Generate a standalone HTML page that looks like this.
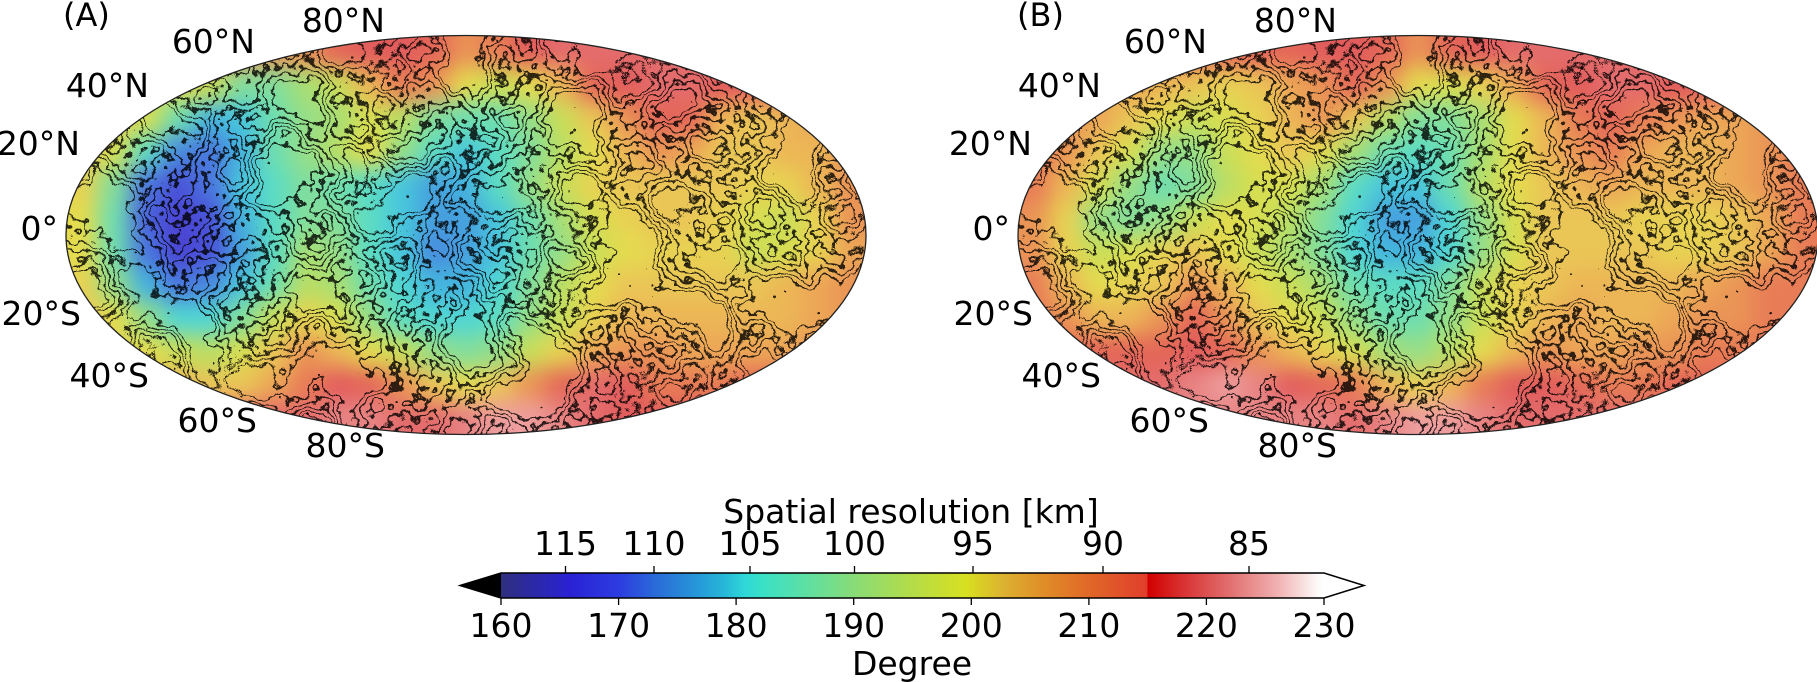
<!DOCTYPE html>
<html><head><meta charset="utf-8">
<style>
html,body{margin:0;padding:0;background:#fff;}
svg{display:block}
text{font-family:"DejaVu Sans","Liberation Sans",sans-serif;font-size:33px;fill:#000}
.c166{fill:#4a44d4}.c168{fill:#4a52d8}.c170{fill:#4a62dc}.c172{fill:#4a76de}.c174{fill:#488ade}
.c176{fill:#46a0de}.c178{fill:#44b4de}.c180{fill:#48c6dc}.c182{fill:#50d6d4}.c184{fill:#5cdcc4}
.c186{fill:#6edeb0}.c188{fill:#82de9c}.c190{fill:#96de88}.c192{fill:#a8de74}.c194{fill:#bade64}
.c196{fill:#cade58}.c198{fill:#d8de50}.c200{fill:#e4dc4e}.c202{fill:#e8d252}.c204{fill:#eac656}
.c206{fill:#ecb656}.c208{fill:#eca656}.c210{fill:#ea9456}.c212{fill:#e87c56}.c214{fill:#e46658}
.c216{fill:#e25c5c}.c218{fill:#e46c6c}.c220{fill:#e88484}.c222{fill:#ee9e9e}
</style></head><body>
<svg width="1817" height="682" viewBox="0 0 1817 682">
<defs>
<clipPath id="ell"><ellipse cx="466" cy="235" rx="400" ry="199.5"/></clipPath>
<filter id="bl" filterUnits="userSpaceOnUse" x="0" y="-20" width="940" height="510" color-interpolation-filters="sRGB"><feGaussianBlur stdDeviation="11"/></filter>
<filter id="ct" filterUnits="userSpaceOnUse" x="60" y="30" width="812" height="412" color-interpolation-filters="sRGB">
<feTurbulence type="fractalNoise" baseFrequency="0.012" numOctaves="5" seed="7" result="n"/>
<feColorMatrix in="n" type="matrix" values="0 0 0 0 0  0 0 0 0 0  0 0 0 0 0  1 0 0 0 0" result="na"/>
<feComponentTransfer in="na" result="lines"><feFuncA type="discrete" tableValues="0 0 0 0 0 0 0 0 0 0 0 0 0 0 0 0 0 0 0 0 0 0 0 0 .8 0 0 0 .8 0 0 0 .8 0 0 0 .8 0 0 0 .8 0 0 0 0 0 0 0 0 0 0 0 0 0 0 0 0 0 0 0 0 0 0 0"/></feComponentTransfer>
<feTurbulence type="fractalNoise" baseFrequency="0.18" numOctaves="1" seed="11" result="n2"/>
<feColorMatrix in="n2" type="matrix" values="0 0 0 0 0  0 0 0 0 0  0 0 0 0 0  1 0 0 0 0" result="n2a"/>
<feComponentTransfer in="n2a" result="dots"><feFuncA type="discrete" tableValues="0 0 0 0 0 0 0 .8 .8"/></feComponentTransfer>
<feMerge><feMergeNode in="lines"/><feMergeNode in="dots"/></feMerge>
</filter>
<linearGradient id="cb" x1="0" x2="1" y1="0" y2="0">
<stop offset="0" stop-color="#2e2f7e"/><stop offset=".084" stop-color="#2a22d4"/><stop offset=".143" stop-color="#2c3ce0"/>
<stop offset=".187" stop-color="#2a6ad8"/><stop offset=".23" stop-color="#2690d8"/><stop offset=".272" stop-color="#26b8d8"/>
<stop offset=".296" stop-color="#2ed8d8"/><stop offset=".315" stop-color="#38e0c8"/><stop offset=".363" stop-color="#58e0a8"/>
<stop offset=".428" stop-color="#88dc78"/><stop offset=".499" stop-color="#b4dc48"/><stop offset=".565" stop-color="#d8e020"/>
<stop offset=".612" stop-color="#dcb030"/><stop offset=".655" stop-color="#e09028"/><stop offset=".714" stop-color="#e06828"/>
<stop offset=".785" stop-color="#e03e2c"/><stop offset=".786" stop-color="#d20000"/><stop offset=".827" stop-color="#d83030"/>
<stop offset=".886" stop-color="#e27070"/><stop offset=".943" stop-color="#f0b0b0"/><stop offset=".993" stop-color="#fefafa"/>
<stop offset="1" stop-color="#ffffff"/>
</linearGradient>
</defs>

<!-- MAP A -->
<g clip-path="url(#ell)">
<g filter="url(#bl)">
<g><rect x="20" width="302" height="69" class="c210"/><rect x="322" width="33" height="69" class="c214"/><rect x="354" width="65" height="69" class="c216"/><rect x="418" width="33" height="69" class="c214"/><rect x="450" width="33" height="69" class="c210"/><rect x="482" width="33" height="69" class="c212"/><rect x="514" width="33" height="69" class="c216"/><rect x="546" width="366" height="69" class="c218"/></g>
<g transform="translate(0,68)"><rect x="20" width="175" height="34" class="c200"/><rect x="194" width="33" height="34" class="c196"/><rect x="226" width="65" height="34" class="c188"/><rect x="290" width="33" height="34" class="c192"/><rect x="322" width="33" height="34" class="c196"/><rect x="354" width="33" height="34" class="c206"/><rect x="386" width="33" height="34" class="c212"/><rect x="418" width="33" height="34" class="c210"/><rect x="450" width="33" height="34" class="c200"/><rect x="482" width="33" height="34" class="c196"/><rect x="514" width="33" height="34" class="c200"/><rect x="546" width="33" height="34" class="c206"/><rect x="578" width="33" height="34" class="c214"/><rect x="610" width="33" height="34" class="c216"/><rect x="642" width="65" height="34" class="c218"/><rect x="706" width="206" height="34" class="c216"/></g>
<g transform="translate(0,102)"><rect x="20" width="111" height="34" class="c202"/><rect x="130" width="33" height="34" class="c198"/><rect x="162" width="33" height="34" class="c186"/><rect x="194" width="33" height="34" class="c178"/><rect x="226" width="33" height="34" class="c180"/><rect x="258" width="33" height="34" class="c186"/><rect x="290" width="33" height="34" class="c190"/><rect x="322" width="33" height="34" class="c192"/><rect x="354" width="33" height="34" class="c198"/><rect x="386" width="33" height="34" class="c194"/><rect x="418" width="33" height="34" class="c188"/><rect x="450" width="65" height="34" class="c186"/><rect x="514" width="33" height="34" class="c190"/><rect x="546" width="33" height="34" class="c196"/><rect x="578" width="33" height="34" class="c204"/><rect x="610" width="33" height="34" class="c210"/><rect x="642" width="65" height="34" class="c214"/><rect x="706" width="33" height="34" class="c206"/><rect x="738" width="33" height="34" class="c204"/><rect x="770" width="33" height="34" class="c206"/><rect x="802" width="110" height="34" class="c208"/></g>
<g transform="translate(0,135)"><rect x="20" width="79" height="34" class="c204"/><rect x="98" width="33" height="34" class="c198"/><rect x="130" width="33" height="34" class="c184"/><rect x="162" width="33" height="34" class="c174"/><rect x="194" width="33" height="34" class="c172"/><rect x="226" width="33" height="34" class="c178"/><rect x="258" width="33" height="34" class="c186"/><rect x="290" width="33" height="34" class="c190"/><rect x="322" width="33" height="34" class="c194"/><rect x="354" width="33" height="34" class="c200"/><rect x="386" width="33" height="34" class="c190"/><rect x="418" width="33" height="34" class="c184"/><rect x="450" width="33" height="34" class="c180"/><rect x="482" width="33" height="34" class="c184"/><rect x="514" width="33" height="34" class="c188"/><rect x="546" width="33" height="34" class="c194"/><rect x="578" width="33" height="34" class="c200"/><rect x="610" width="33" height="34" class="c206"/><rect x="642" width="33" height="34" class="c210"/><rect x="674" width="33" height="34" class="c208"/><rect x="706" width="65" height="34" class="c204"/><rect x="770" width="65" height="34" class="c206"/><rect x="834" width="78" height="34" class="c210"/></g>
<g transform="translate(0,168)"><rect x="20" width="79" height="34" class="c202"/><rect x="98" width="33" height="34" class="c188"/><rect x="130" width="33" height="34" class="c172"/><rect x="162" width="33" height="34" class="c168"/><rect x="194" width="33" height="34" class="c172"/><rect x="226" width="33" height="34" class="c180"/><rect x="258" width="33" height="34" class="c184"/><rect x="290" width="33" height="34" class="c188"/><rect x="322" width="33" height="34" class="c186"/><rect x="354" width="33" height="34" class="c184"/><rect x="386" width="33" height="34" class="c180"/><rect x="418" width="33" height="34" class="c176"/><rect x="450" width="33" height="34" class="c178"/><rect x="482" width="33" height="34" class="c184"/><rect x="514" width="33" height="34" class="c190"/><rect x="546" width="33" height="34" class="c196"/><rect x="578" width="33" height="34" class="c202"/><rect x="610" width="129" height="34" class="c204"/><rect x="738" width="65" height="34" class="c202"/><rect x="802" width="33" height="34" class="c206"/><rect x="834" width="78" height="34" class="c210"/></g>
<g transform="translate(0,202)"><rect x="20" width="79" height="34" class="c200"/><rect x="98" width="33" height="34" class="c186"/><rect x="130" width="33" height="34" class="c170"/><rect x="162" width="33" height="34" class="c166"/><rect x="194" width="33" height="34" class="c168"/><rect x="226" width="33" height="34" class="c178"/><rect x="258" width="33" height="34" class="c184"/><rect x="290" width="65" height="34" class="c188"/><rect x="354" width="33" height="34" class="c184"/><rect x="386" width="33" height="34" class="c180"/><rect x="418" width="65" height="34" class="c176"/><rect x="482" width="33" height="34" class="c180"/><rect x="514" width="33" height="34" class="c186"/><rect x="546" width="33" height="34" class="c192"/><rect x="578" width="33" height="34" class="c198"/><rect x="610" width="33" height="34" class="c202"/><rect x="642" width="65" height="34" class="c204"/><rect x="706" width="33" height="34" class="c202"/><rect x="738" width="33" height="34" class="c198"/><rect x="770" width="33" height="34" class="c196"/><rect x="802" width="33" height="34" class="c202"/><rect x="834" width="78" height="34" class="c210"/></g>
<g transform="translate(0,235)"><rect x="20" width="79" height="34" class="c200"/><rect x="98" width="33" height="34" class="c186"/><rect x="130" width="33" height="34" class="c172"/><rect x="162" width="33" height="34" class="c166"/><rect x="194" width="33" height="34" class="c168"/><rect x="226" width="33" height="34" class="c176"/><rect x="258" width="33" height="34" class="c184"/><rect x="290" width="33" height="34" class="c192"/><rect x="322" width="33" height="34" class="c190"/><rect x="354" width="33" height="34" class="c184"/><rect x="386" width="33" height="34" class="c180"/><rect x="418" width="33" height="34" class="c174"/><rect x="450" width="33" height="34" class="c176"/><rect x="482" width="33" height="34" class="c180"/><rect x="514" width="33" height="34" class="c186"/><rect x="546" width="33" height="34" class="c190"/><rect x="578" width="33" height="34" class="c196"/><rect x="610" width="33" height="34" class="c200"/><rect x="642" width="97" height="34" class="c202"/><rect x="738" width="33" height="34" class="c196"/><rect x="770" width="33" height="34" class="c198"/><rect x="802" width="33" height="34" class="c202"/><rect x="834" width="78" height="34" class="c208"/></g>
<g transform="translate(0,268)"><rect x="20" width="79" height="34" class="c202"/><rect x="98" width="33" height="34" class="c190"/><rect x="130" width="33" height="34" class="c178"/><rect x="162" width="33" height="34" class="c172"/><rect x="194" width="33" height="34" class="c174"/><rect x="226" width="33" height="34" class="c180"/><rect x="258" width="33" height="34" class="c186"/><rect x="290" width="33" height="34" class="c194"/><rect x="322" width="33" height="34" class="c192"/><rect x="354" width="33" height="34" class="c186"/><rect x="386" width="33" height="34" class="c182"/><rect x="418" width="65" height="34" class="c178"/><rect x="482" width="33" height="34" class="c182"/><rect x="514" width="33" height="34" class="c188"/><rect x="546" width="33" height="34" class="c194"/><rect x="578" width="33" height="34" class="c200"/><rect x="610" width="161" height="34" class="c204"/><rect x="770" width="33" height="34" class="c206"/><rect x="802" width="33" height="34" class="c208"/><rect x="834" width="78" height="34" class="c210"/></g>
<g transform="translate(0,301)"><rect x="20" width="79" height="34" class="c204"/><rect x="98" width="33" height="34" class="c200"/><rect x="130" width="33" height="34" class="c190"/><rect x="162" width="65" height="34" class="c182"/><rect x="226" width="33" height="34" class="c188"/><rect x="258" width="33" height="34" class="c196"/><rect x="290" width="33" height="34" class="c202"/><rect x="322" width="33" height="34" class="c198"/><rect x="354" width="33" height="34" class="c190"/><rect x="386" width="33" height="34" class="c184"/><rect x="418" width="65" height="34" class="c182"/><rect x="482" width="33" height="34" class="c184"/><rect x="514" width="33" height="34" class="c190"/><rect x="546" width="33" height="34" class="c196"/><rect x="578" width="33" height="34" class="c202"/><rect x="610" width="193" height="34" class="c206"/><rect x="802" width="33" height="34" class="c208"/><rect x="834" width="78" height="34" class="c210"/></g>
<g transform="translate(0,335)"><rect x="20" width="111" height="34" class="c202"/><rect x="130" width="33" height="34" class="c200"/><rect x="162" width="33" height="34" class="c196"/><rect x="194" width="33" height="34" class="c194"/><rect x="226" width="33" height="34" class="c198"/><rect x="258" width="33" height="34" class="c204"/><rect x="290" width="33" height="34" class="c210"/><rect x="322" width="33" height="34" class="c206"/><rect x="354" width="33" height="34" class="c200"/><rect x="386" width="33" height="34" class="c196"/><rect x="418" width="33" height="34" class="c190"/><rect x="450" width="33" height="34" class="c188"/><rect x="482" width="33" height="34" class="c190"/><rect x="514" width="33" height="34" class="c196"/><rect x="546" width="33" height="34" class="c202"/><rect x="578" width="33" height="34" class="c208"/><rect x="610" width="65" height="34" class="c210"/><rect x="674" width="129" height="34" class="c208"/><rect x="802" width="110" height="34" class="c210"/></g>
<g transform="translate(0,368)"><rect x="20" width="175" height="34" class="c206"/><rect x="194" width="65" height="34" class="c204"/><rect x="258" width="33" height="34" class="c208"/><rect x="290" width="33" height="34" class="c212"/><rect x="322" width="33" height="34" class="c216"/><rect x="354" width="33" height="34" class="c214"/><rect x="386" width="33" height="34" class="c210"/><rect x="418" width="33" height="34" class="c204"/><rect x="450" width="33" height="34" class="c200"/><rect x="482" width="33" height="34" class="c204"/><rect x="514" width="33" height="34" class="c210"/><rect x="546" width="33" height="34" class="c214"/><rect x="578" width="33" height="34" class="c218"/><rect x="610" width="33" height="34" class="c216"/><rect x="642" width="97" height="34" class="c212"/><rect x="738" width="174" height="34" class="c214"/></g>
<g transform="translate(0,401)"><rect x="20" width="302" height="69" class="c218"/><rect x="322" width="65" height="69" class="c220"/><rect x="386" width="65" height="69" class="c218"/><rect x="450" width="33" height="69" class="c220"/><rect x="482" width="65" height="69" class="c222"/><rect x="546" width="33" height="69" class="c220"/><rect x="578" width="33" height="69" class="c218"/><rect x="610" width="302" height="69" class="c216"/></g>
</g>
<rect x="60" y="30" width="812" height="412" fill="#000" filter="url(#ct)"/>
</g>
<ellipse cx="466" cy="235" rx="400" ry="199.5" fill="none" stroke="#222" stroke-width="1.3"/>

<!-- MAP B -->
<g transform="translate(952,0)">
<g clip-path="url(#ell)">
<g filter="url(#bl)">
<g><rect x="20" width="334" height="69" class="c214"/><rect x="354" width="65" height="69" class="c216"/><rect x="418" width="33" height="69" class="c214"/><rect x="450" width="33" height="69" class="c210"/><rect x="482" width="33" height="69" class="c214"/><rect x="514" width="33" height="69" class="c216"/><rect x="546" width="366" height="69" class="c218"/></g>
<g transform="translate(0,68)"><rect x="20" width="175" height="34" class="c208"/><rect x="194" width="33" height="34" class="c206"/><rect x="226" width="33" height="34" class="c204"/><rect x="258" width="33" height="34" class="c202"/><rect x="290" width="33" height="34" class="c204"/><rect x="322" width="33" height="34" class="c208"/><rect x="354" width="33" height="34" class="c210"/><rect x="386" width="33" height="34" class="c214"/><rect x="418" width="33" height="34" class="c210"/><rect x="450" width="33" height="34" class="c200"/><rect x="482" width="33" height="34" class="c198"/><rect x="514" width="33" height="34" class="c202"/><rect x="546" width="33" height="34" class="c208"/><rect x="578" width="33" height="34" class="c214"/><rect x="610" width="33" height="34" class="c216"/><rect x="642" width="65" height="34" class="c218"/><rect x="706" width="206" height="34" class="c216"/></g>
<g transform="translate(0,102)"><rect x="20" width="111" height="34" class="c210"/><rect x="130" width="33" height="34" class="c208"/><rect x="162" width="33" height="34" class="c204"/><rect x="194" width="33" height="34" class="c200"/><rect x="226" width="33" height="34" class="c196"/><rect x="258" width="33" height="34" class="c198"/><rect x="290" width="33" height="34" class="c202"/><rect x="322" width="33" height="34" class="c206"/><rect x="354" width="33" height="34" class="c210"/><rect x="386" width="33" height="34" class="c204"/><rect x="418" width="33" height="34" class="c194"/><rect x="450" width="65" height="34" class="c188"/><rect x="514" width="33" height="34" class="c192"/><rect x="546" width="33" height="34" class="c200"/><rect x="578" width="33" height="34" class="c206"/><rect x="610" width="33" height="34" class="c212"/><rect x="642" width="33" height="34" class="c214"/><rect x="674" width="33" height="34" class="c212"/><rect x="706" width="33" height="34" class="c210"/><rect x="738" width="65" height="34" class="c208"/><rect x="802" width="110" height="34" class="c210"/></g>
<g transform="translate(0,135)"><rect x="20" width="79" height="34" class="c212"/><rect x="98" width="33" height="34" class="c210"/><rect x="130" width="33" height="34" class="c204"/><rect x="162" width="33" height="34" class="c198"/><rect x="194" width="65" height="34" class="c190"/><rect x="258" width="33" height="34" class="c196"/><rect x="290" width="33" height="34" class="c200"/><rect x="322" width="33" height="34" class="c204"/><rect x="354" width="33" height="34" class="c200"/><rect x="386" width="33" height="34" class="c192"/><rect x="418" width="33" height="34" class="c186"/><rect x="450" width="33" height="34" class="c184"/><rect x="482" width="33" height="34" class="c186"/><rect x="514" width="33" height="34" class="c192"/><rect x="546" width="33" height="34" class="c200"/><rect x="578" width="33" height="34" class="c206"/><rect x="610" width="33" height="34" class="c210"/><rect x="642" width="33" height="34" class="c212"/><rect x="674" width="33" height="34" class="c208"/><rect x="706" width="65" height="34" class="c206"/><rect x="770" width="33" height="34" class="c208"/><rect x="802" width="33" height="34" class="c210"/><rect x="834" width="78" height="34" class="c212"/></g>
<g transform="translate(0,168)"><rect x="20" width="79" height="34" class="c212"/><rect x="98" width="33" height="34" class="c206"/><rect x="130" width="33" height="34" class="c198"/><rect x="162" width="33" height="34" class="c190"/><rect x="194" width="33" height="34" class="c186"/><rect x="226" width="33" height="34" class="c188"/><rect x="258" width="33" height="34" class="c194"/><rect x="290" width="65" height="34" class="c198"/><rect x="354" width="33" height="34" class="c192"/><rect x="386" width="33" height="34" class="c184"/><rect x="418" width="65" height="34" class="c180"/><rect x="482" width="33" height="34" class="c186"/><rect x="514" width="33" height="34" class="c194"/><rect x="546" width="33" height="34" class="c200"/><rect x="578" width="33" height="34" class="c204"/><rect x="610" width="33" height="34" class="c206"/><rect x="642" width="33" height="34" class="c208"/><rect x="674" width="97" height="34" class="c206"/><rect x="770" width="33" height="34" class="c208"/><rect x="802" width="33" height="34" class="c210"/><rect x="834" width="78" height="34" class="c212"/></g>
<g transform="translate(0,202)"><rect x="20" width="79" height="34" class="c210"/><rect x="98" width="33" height="34" class="c202"/><rect x="130" width="33" height="34" class="c190"/><rect x="162" width="33" height="34" class="c188"/><rect x="194" width="33" height="34" class="c190"/><rect x="226" width="33" height="34" class="c196"/><rect x="258" width="33" height="34" class="c200"/><rect x="290" width="33" height="34" class="c198"/><rect x="322" width="33" height="34" class="c194"/><rect x="354" width="33" height="34" class="c188"/><rect x="386" width="33" height="34" class="c182"/><rect x="418" width="65" height="34" class="c176"/><rect x="482" width="33" height="34" class="c182"/><rect x="514" width="33" height="34" class="c190"/><rect x="546" width="33" height="34" class="c198"/><rect x="578" width="97" height="34" class="c204"/><rect x="674" width="97" height="34" class="c202"/><rect x="770" width="33" height="34" class="c204"/><rect x="802" width="33" height="34" class="c208"/><rect x="834" width="78" height="34" class="c212"/></g>
<g transform="translate(0,235)"><rect x="20" width="79" height="34" class="c210"/><rect x="98" width="33" height="34" class="c202"/><rect x="130" width="33" height="34" class="c196"/><rect x="162" width="33" height="34" class="c198"/><rect x="194" width="33" height="34" class="c202"/><rect x="226" width="33" height="34" class="c204"/><rect x="258" width="33" height="34" class="c200"/><rect x="290" width="33" height="34" class="c196"/><rect x="322" width="33" height="34" class="c192"/><rect x="354" width="33" height="34" class="c188"/><rect x="386" width="33" height="34" class="c182"/><rect x="418" width="65" height="34" class="c178"/><rect x="482" width="33" height="34" class="c182"/><rect x="514" width="33" height="34" class="c190"/><rect x="546" width="33" height="34" class="c198"/><rect x="578" width="129" height="34" class="c204"/><rect x="706" width="65" height="34" class="c202"/><rect x="770" width="33" height="34" class="c204"/><rect x="802" width="33" height="34" class="c208"/><rect x="834" width="78" height="34" class="c212"/></g>
<g transform="translate(0,268)"><rect x="20" width="79" height="34" class="c212"/><rect x="98" width="33" height="34" class="c206"/><rect x="130" width="33" height="34" class="c200"/><rect x="162" width="33" height="34" class="c202"/><rect x="194" width="33" height="34" class="c204"/><rect x="226" width="33" height="34" class="c210"/><rect x="258" width="33" height="34" class="c206"/><rect x="290" width="33" height="34" class="c200"/><rect x="322" width="33" height="34" class="c196"/><rect x="354" width="33" height="34" class="c192"/><rect x="386" width="33" height="34" class="c186"/><rect x="418" width="65" height="34" class="c184"/><rect x="482" width="33" height="34" class="c188"/><rect x="514" width="33" height="34" class="c196"/><rect x="546" width="33" height="34" class="c202"/><rect x="578" width="33" height="34" class="c204"/><rect x="610" width="129" height="34" class="c206"/><rect x="738" width="33" height="34" class="c208"/><rect x="770" width="33" height="34" class="c210"/><rect x="802" width="110" height="34" class="c212"/></g>
<g transform="translate(0,301)"><rect x="20" width="79" height="34" class="c212"/><rect x="98" width="33" height="34" class="c210"/><rect x="130" width="65" height="34" class="c206"/><rect x="194" width="33" height="34" class="c210"/><rect x="226" width="33" height="34" class="c214"/><rect x="258" width="33" height="34" class="c210"/><rect x="290" width="33" height="34" class="c204"/><rect x="322" width="33" height="34" class="c200"/><rect x="354" width="33" height="34" class="c196"/><rect x="386" width="33" height="34" class="c190"/><rect x="418" width="65" height="34" class="c186"/><rect x="482" width="33" height="34" class="c190"/><rect x="514" width="33" height="34" class="c196"/><rect x="546" width="33" height="34" class="c202"/><rect x="578" width="33" height="34" class="c206"/><rect x="610" width="33" height="34" class="c208"/><rect x="642" width="65" height="34" class="c206"/><rect x="706" width="33" height="34" class="c208"/><rect x="738" width="65" height="34" class="c210"/><rect x="802" width="110" height="34" class="c212"/></g>
<g transform="translate(0,335)"><rect x="20" width="207" height="34" class="c214"/><rect x="226" width="33" height="34" class="c216"/><rect x="258" width="33" height="34" class="c214"/><rect x="290" width="33" height="34" class="c210"/><rect x="322" width="33" height="34" class="c206"/><rect x="354" width="33" height="34" class="c202"/><rect x="386" width="33" height="34" class="c198"/><rect x="418" width="33" height="34" class="c192"/><rect x="450" width="33" height="34" class="c190"/><rect x="482" width="33" height="34" class="c194"/><rect x="514" width="33" height="34" class="c200"/><rect x="546" width="33" height="34" class="c206"/><rect x="578" width="33" height="34" class="c210"/><rect x="610" width="65" height="34" class="c208"/><rect x="674" width="65" height="34" class="c210"/><rect x="738" width="174" height="34" class="c212"/></g>
<g transform="translate(0,368)"><rect x="20" width="207" height="34" class="c218"/><rect x="226" width="33" height="34" class="c220"/><rect x="258" width="33" height="34" class="c222"/><rect x="290" width="33" height="34" class="c220"/><rect x="322" width="33" height="34" class="c216"/><rect x="354" width="33" height="34" class="c214"/><rect x="386" width="33" height="34" class="c212"/><rect x="418" width="33" height="34" class="c206"/><rect x="450" width="33" height="34" class="c202"/><rect x="482" width="33" height="34" class="c206"/><rect x="514" width="33" height="34" class="c212"/><rect x="546" width="65" height="34" class="c216"/><rect x="610" width="33" height="34" class="c214"/><rect x="642" width="65" height="34" class="c212"/><rect x="706" width="206" height="34" class="c214"/></g>
<g transform="translate(0,401)"><rect x="20" width="366" height="69" class="c220"/><rect x="386" width="33" height="69" class="c218"/><rect x="418" width="33" height="69" class="c220"/><rect x="450" width="65" height="69" class="c222"/><rect x="514" width="33" height="69" class="c220"/><rect x="546" width="366" height="69" class="c218"/></g>
</g>
<rect x="60" y="30" width="812" height="412" fill="#000" filter="url(#ct)"/>
</g>
<ellipse cx="466" cy="235" rx="400" ry="199.5" fill="none" stroke="#222" stroke-width="1.3"/>
</g>

<!-- Labels A -->
<text x="63" y="26" style="font-size:32px">(A)</text>
<g text-anchor="end">
<text x="385" y="32">80°N</text>
<text x="255" y="53">60°N</text>
<text x="149" y="97">40°N</text>
<text x="80" y="155">20°N</text>
<text x="58" y="240">0°</text>
<text x="81" y="325">20°S</text>
<text x="149" y="387">40°S</text>
<text x="257" y="432">60°S</text>
<text x="385" y="457">80°S</text>
</g>
<!-- Labels B -->
<text x="1017" y="26" style="font-size:32px">(B)</text>
<g text-anchor="end">
<text x="1337" y="32">80°N</text>
<text x="1207" y="53">60°N</text>
<text x="1101" y="97">40°N</text>
<text x="1032" y="155">20°N</text>
<text x="1010" y="240">0°</text>
<text x="1033" y="325">20°S</text>
<text x="1101" y="387">40°S</text>
<text x="1209" y="432">60°S</text>
<text x="1337" y="457">80°S</text>
</g>

<!-- Colorbar -->
<rect x="501" y="573" width="823" height="25" fill="url(#cb)"/>
<path d="M501 573 L460 585.5 L501 598 Z" fill="#000"/>
<path d="M1324 573 L1364 585.5 L1324 598 Z" fill="#fff"/>
<path d="M501 573 H1324 L1364 585.5 L1324 598 H501 L460 585.5 Z" fill="none" stroke="#000" stroke-width="1.5"/>
<g stroke="#000" stroke-width="1.3">
<line x1="565.5" y1="566" x2="565.5" y2="573"/><line x1="654" y1="566" x2="654" y2="573"/><line x1="750" y1="566" x2="750" y2="573"/>
<line x1="854.5" y1="566" x2="854.5" y2="573"/><line x1="973" y1="566" x2="973" y2="573"/><line x1="1103" y1="566" x2="1103" y2="573"/>
<line x1="1249" y1="566" x2="1249" y2="573"/>
<line x1="501" y1="598" x2="501" y2="605"/><line x1="618.6" y1="598" x2="618.6" y2="605"/><line x1="736.1" y1="598" x2="736.1" y2="605"/>
<line x1="853.7" y1="598" x2="853.7" y2="605"/><line x1="971.3" y1="598" x2="971.3" y2="605"/><line x1="1088.9" y1="598" x2="1088.9" y2="605"/>
<line x1="1206.4" y1="598" x2="1206.4" y2="605"/><line x1="1324" y1="598" x2="1324" y2="605"/>
</g>
<g text-anchor="middle">
<text x="911" y="523">Spatial resolution [km]</text>
<text x="565.5" y="555">115</text><text x="654" y="555">110</text><text x="750" y="555">105</text>
<text x="854.5" y="555">100</text><text x="973" y="555">95</text><text x="1103" y="555">90</text><text x="1249" y="555">85</text>
<text x="501" y="637">160</text><text x="618.6" y="637">170</text><text x="736.1" y="637">180</text>
<text x="853.7" y="637">190</text><text x="971.3" y="637">200</text><text x="1088.9" y="637">210</text>
<text x="1206.4" y="637">220</text><text x="1324" y="637">230</text>
<text x="912" y="675">Degree</text>
</g>
</svg>
</body></html>
